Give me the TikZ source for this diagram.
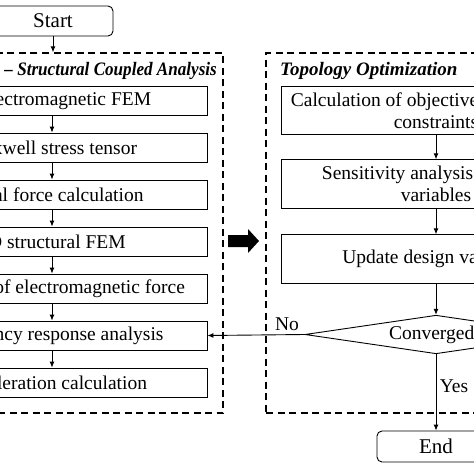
\documentclass[tikz,border=0pt]{standalone}
\usepackage{fontspec}
\setmainfont{Liberation Serif}
\usetikzlibrary{arrows.meta,shapes.geometric}

\begin{document}
\begin{tikzpicture}[x=1pt,y=-1pt,
    font=\fontsize{19.5}{22}\selectfont,
    box/.style={draw,line width=0.9pt,minimum width=310pt,minimum height=29pt,inner sep=0pt,align=center},
    tallbox/.style={box,minimum height=48.5pt},
    term/.style={draw,line width=0.9pt,rounded corners=5pt,minimum width=120pt,minimum height=30pt,inner sep=0pt,font=\fontsize{21}{24}\selectfont},
    grp/.style={draw,line width=1.4pt,dash pattern=on 7pt off 4.5pt,minimum width=340pt,minimum height=360pt,inner sep=0pt},
    cond/.style={draw,line width=0.9pt,diamond,aspect=4.5,minimum width=262pt,inner sep=0pt},
    arr/.style={-{Latex[length=6pt,width=5pt]},line width=0.9pt},
    grptitle/.style={font=\fontsize{19}{22}\selectfont\bfseries\itshape,inner sep=0pt}]

    \useasboundingbox (0,0) rectangle (474,474);
    \clip (0,0) rectangle (474,474);

    % groups
    \node[grp] (emgrp) at (53,233) {};
    \node[grp] (optgrp) at (436,233) {};
    \node[grptitle,anchor=base east] at (217,75) {\scalebox{0.9}[1]{Electromagnetic -- Structural Coupled Analysis}};
    \node[grptitle,anchor=base west] at (280,75) {Topology Optimization};

    % start / end
    \node[term] (start) at (53,21) {Start};
    \node[term,minimum width=118pt,minimum height=31pt] (end) at (436,446.5) {End};
    \draw[arr] (start) -- (emgrp.north);

    % coupled analysis
    \foreach \txt [count=\i] in {2D electromagnetic FEM,Maxwell stress tensor,Nodal force calculation,3D structural FEM,Mapping of electromagnetic force,Frequency response analysis,Acceleration calculation}
        \node[box] (l\i) at (52,{100.5+47*(\i-1)}) {\txt};
    \foreach \i/\j in {1/2,2/3,3/4,4/5,5/6,6/7}
        \draw[arr] (l\i) -- (l\j);

    % topology optimization
    \node[tallbox] (r1) at (436,110.5) {Calculation of objective function and\\constraints};
    \node[tallbox] (r2) at (436,184) {Sensitivity analysis of design\\variables};
    \node[tallbox] (r3) at (436,259) {Update design variables};
    \node[cond] (conv) at (436,334.5) {Converged?};
    \draw[arr] (r1) -- (r2);
    \draw[arr] (r2) -- (r3);
    \draw[arr] (r3) -- (conv);
    \draw[arr] (conv.west) -- node[above,pos=0.18] {No} (l6.east);
    \draw[arr] (conv.south) -- node[right,pos=0.42] {Yes} (end);

    % big arrow
    \fill (228,235) -- (248,235) -- (248,229) -- (259,241) -- (248,253) -- (248,247) -- (228,247) -- cycle;
\end{tikzpicture}
\end{document}
